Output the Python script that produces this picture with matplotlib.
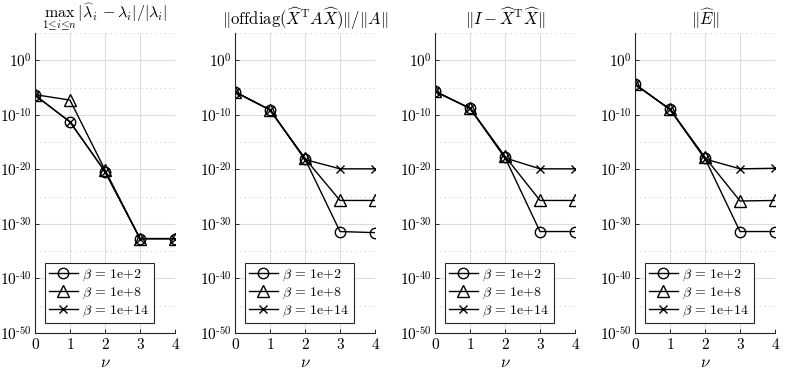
import numpy as np
import matplotlib
matplotlib.use("Agg")
import matplotlib.pyplot as plt
from matplotlib.ticker import FixedLocator, FuncFormatter, NullFormatter

plt.rcParams['mathtext.fontset'] = 'cm'
plt.rcParams['font.family'] = ['cmr10', 'DejaVu Serif']
plt.rcParams['axes.formatter.use_mathtext'] = True

nu = [0, 1, 2, 3, 4]
labels = [r'$\beta$ = 1e+2', r'$\beta$ = 1e+8', r'$\beta$ = 1e+14']
titles = [r'$\max_{1\leq i\leq n}\,|\widehat{\lambda}_i-\lambda_i|/|\lambda_i|$',
          r'$\|\mathrm{offdiag}(\widehat{X}^{\mathrm{T}}A\widehat{X})\|/\|A\|$',
          r'$\|I-\widehat{X}^{\mathrm{T}}\widehat{X}\|$',
          r'$\|\widehat{E}\|$']

# log10 values; rows: beta=1e2, 1e8, 1e14
p1_b2 = [-6.4, -11.3, -20.4, -32.7, -32.7]
p1_b8 = [-6.3, -7.3, -20.1, -32.7, -32.7]
p1_b14 = [-6.4, -11.3, -20.4, -32.7, -32.7]

p2_b2 = [-5.8, -9.1, -18.1, -31.4, -31.6]
p2_b8 = [-5.8, -9.1, -18.0, -25.7, -25.7]
p2_b14 = [-5.8, -9.1, -18.2, -19.9, -19.9]

p3_b2 = [-5.7, -8.8, -17.8, -31.4, -31.4]
p3_b8 = [-5.7, -8.8, -17.6, -25.7, -25.7]
p3_b14 = [-5.7, -8.8, -17.9, -19.9, -19.9]

p4_b2 = [-4.4, -9.0, -18.0, -31.4, -31.4]
p4_b8 = [-4.4, -9.0, -17.8, -25.8, -25.7]
p4_b14 = [-4.4, -9.0, -18.1, -19.9, -19.8]

panels = [(p1_b2, p1_b8, p1_b14), (p2_b2, p2_b8, p2_b14),
          (p3_b2, p3_b8, p3_b14), (p4_b2, p4_b8, p4_b14)]

markers = ['o', '^', 'x']
msizes = [7.5, 8.5, 6]

fig = plt.figure(figsize=(7.85, 3.72), dpi=100)
lefts = [35, 235, 435, 635]
W, H = 785, 372
for k, (left, series) in enumerate(zip(lefts, panels)):
    ax = fig.add_axes([left / W, 1 - 333 / H, 140 / W, 300 / H])
    for s, m, ms, lab in zip(series, markers, msizes, labels):
        ax.semilogy(nu, [10.0 ** v for v in s], color='black', lw=1.0,
                    marker=m, ms=ms, mfc='none', mec='black', mew=1.0, label=lab)
    ax.set_xlim(0, 4)
    ax.set_ylim(1e-50, 1e5)
    ax.yaxis.set_major_locator(FixedLocator([10.0 ** e for e in range(-50, 1, 10)]))
    ax.yaxis.set_minor_locator(FixedLocator([10.0 ** e for e in range(-45, 6, 10)]))
    ax.yaxis.set_minor_formatter(NullFormatter())
    ax.yaxis.set_major_formatter(FuncFormatter(
        lambda v, p: r'$10^{\mathrm{%s}}$' % (str(round(np.log10(v))).replace('-', r'\text{-}'))))
    ax.set_xticks(nu)
    ax.set_xticklabels([str(v) for v in nu])
    ax.grid(True, which='major', color='#dcdcdc', lw=0.8, ls='-')
    ax.grid(True, which='minor', axis='y', color='#cfcfcf', lw=0.8, ls=(0, (1, 3)))
    ax.tick_params(which='major', direction='in', length=3, width=0.7, colors='#262626',
                   labelsize=11, labelcolor='black', pad=2)
    ax.tick_params(axis='x', pad=4)
    ax.tick_params(which='minor', length=0)
    for sp in ['top', 'right']:
        ax.spines[sp].set_visible(False)
    for sp in ['left', 'bottom']:
        ax.spines[sp].set_color('#262626')
        ax.spines[sp].set_linewidth(0.8)
    ax.set_axisbelow(True)
    ax.set_xlabel(r'$\nu$', fontsize=12, labelpad=2)
    if k == 0:
        ax.set_title(titles[k], fontsize=11.5, pad=3)
    else:
        ax.set_title(titles[k], fontsize=12, pad=6)
    leg = ax.legend(loc='lower left', fancybox=False, framealpha=1,
                    edgecolor='#262626', borderpad=0.3, labelspacing=0.2,
                    handlelength=2.1, handletextpad=0.3, borderaxespad=0.7,
                    prop={'family': ['cmr10', 'DejaVu Serif'], 'size': 10})
    leg.get_frame().set_linewidth(0.8)

fig.savefig('out.png', dpi=100)
